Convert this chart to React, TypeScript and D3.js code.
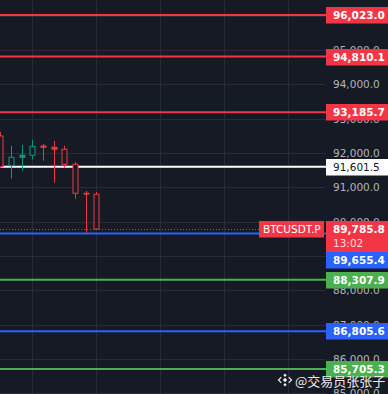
import React from 'react';
import * as d3 from 'd3';

// candles (oldest first)
const opens = [92497, 91632, 91876, 91935, 92206, 92168, 92110, 91672, 90827, 90798];
const highs = [92614, 92206, 92235, 92381, 92264, 92352, 92206, 91740, 90894, 90865];
const lows = [91560, 91253, 91486, 91818, 91777, 91136, 91573, 90670, 89679, 89785.8];
const closes = [91602, 91876, 91935, 92197, 92168, 92110, 91672, 90827, 90820, 89785.8];

// horizontal levels
const levelPrices = [96023.0, 94810.1, 93185.7, 91601.5, 89655.4, 88307.9, 86805.6, 85705.3];
const levelColors = ['#f23645', '#f23645', '#f23645', '#ffffff', '#2962ff', '#4caf50', '#2962ff', '#4caf50'];

const tickValues = [85000, 86000, 87000, 88000, 89000, 90000, 91000, 92000, 93000, 94000, 95000, 96000];
const timeGridIdx = [3, 9, 15, 21, 27];

const symbol = 'BTCUSDT.P';
const lastPrice = 89785.8;
const countdown = '13:02';
const watermark = '@交易员张张子';

const W = 388;
const H = 394;
const plotRight = 326;
const bg = '#161a25';
const grid = '#282c37';
const up = '#089981';
const down = '#f23645';

const fmt = d3.format(',.1f');

export default function App() {
  const y = d3.scaleLinear().domain([85705.3, 96023]).range([369, 15]);
  const x = d3.scaleLinear().domain([0, 30]).range([0.3, 0.3 + 30 * 10.667]);
  const bw = 5;

  // current price box first, then push level labels down if they overlap
  const lastTop = Math.round(y(lastPrice)) - 8;
  const lastBottom = lastTop + 31;
  const taken: [number, number][] = [[lastTop, lastBottom]];
  const labelTops = levelPrices.map((p) => {
    let top = Math.round(y(p)) - 8;
    for (const [a, b] of taken) {
      if (top < b && top + 16.5 > a) top = b;
    }
    taken.push([top, top + 16.5]);
    return top;
  });

  const font = '"DejaVu Sans", sans-serif';
  const wm = '#ececec';

  return (
    <svg width={W} height={H} style={{ position: 'absolute', left: 0, top: 0, display: 'block' }}>
      <rect width={W} height={H} fill={bg} />

      {/* grid */}
      {tickValues.map((t) => (
        <line key={'h' + t} x1={0} x2={plotRight} y1={Math.round(y(t)) + 0.5} y2={Math.round(y(t)) + 0.5} stroke={grid} />
      ))}
      {timeGridIdx.map((i) => (
        <line key={'v' + i} x1={Math.round(x(i)) + 0.5} x2={Math.round(x(i)) + 0.5} y1={0} y2={H} stroke={grid} />
      ))}

      {/* price axis ticks */}
      {tickValues.map((t) => (
        <text key={'t' + t} x={333} y={y(t) + 4} fill="#b2b5be" fontSize={10.5} fontFamily={font}>
          {fmt(t)}
        </text>
      ))}

      {/* level lines */}
      {levelPrices.map((p, i) => (
        <line key={'l' + i} x1={0} x2={plotRight} y1={y(p)} y2={y(p)} stroke={levelColors[i]} strokeWidth={2} />
      ))}

      {/* last price dotted line */}
      <line x1={0} x2={259} y1={Math.round(y(lastPrice)) + 0.5} y2={Math.round(y(lastPrice)) + 0.5}
        stroke={down} strokeDasharray="1,2" />

      {/* candles */}
      {opens.map((o, i) => {
        const c = closes[i];
        const col = c >= o ? up : down;
        const cx = Math.round(x(i)) + 0.5;
        const top = y(Math.max(o, c));
        const bot = y(Math.min(o, c));
        return (
          <g key={'c' + i}>
            <line x1={cx} x2={cx} y1={y(highs[i])} y2={y(lows[i])} stroke={col} />
            <rect x={cx - bw / 2} y={top} width={bw} height={Math.max(bot - top, 0.8)}
              fill={bot - top < 2.5 ? col : bg} stroke={col} />
          </g>
        );
      })}

      {/* level labels */}
      {levelPrices.map((p, i) => (
        <g key={'lb' + i}>
          <rect x={326} y={labelTops[i]} width={62} height={16.5} fill={levelColors[i]} />
          <text x={333} y={labelTops[i] + 12.3} fill={levelColors[i] === '#ffffff' ? '#131722' : '#ffffff'}
            fontSize={10.5} fontWeight={levelColors[i] === '#ffffff' ? 'normal' : 'bold'} fontFamily={font}>
            {fmt(p)}
          </text>
        </g>
      ))}

      {/* symbol + last price */}
      <rect x={259} y={lastTop} width={65} height={16.5} fill={down} />
      <text x={263} y={lastTop + 12.3} fill="#fff" fontSize={10.5} fontFamily={font}>{symbol}</text>
      <rect x={326} y={lastTop} width={62} height={31} fill={down} />
      <text x={333} y={lastTop + 11.5} fill="#fff" fontSize={10.5} fontWeight="bold" fontFamily={font}>{fmt(lastPrice)}</text>
      <text x={333} y={lastTop + 25.5} fill="#fff" fillOpacity={0.85} fontSize={10.5} fontFamily={font}>{countdown}</text>

      {/* watermark */}
      <g transform="translate(285,380) rotate(45)" fill="none" stroke={wm} strokeWidth={1.2}>
        <rect x={-1.6} y={-1.6} width={3.2} height={3.2} fill={wm} stroke="none" />
        <rect x={-4.6} y={-4.6} width={2.4} height={2.4} fill={wm} stroke="none" />
        <rect x={2.2} y={2.2} width={2.4} height={2.4} fill={wm} stroke="none" />
        <path d="M-4.6,0.6 L-4.6,4.6 L-0.6,4.6 M0.6,-4.6 L4.6,-4.6 L4.6,-0.6" />
      </g>
      <text x={295} y={385.5} fill={wm} fontSize={13} fontFamily='"Noto Sans CJK SC", sans-serif'>
        {watermark}
      </text>
    </svg>
  );
}
